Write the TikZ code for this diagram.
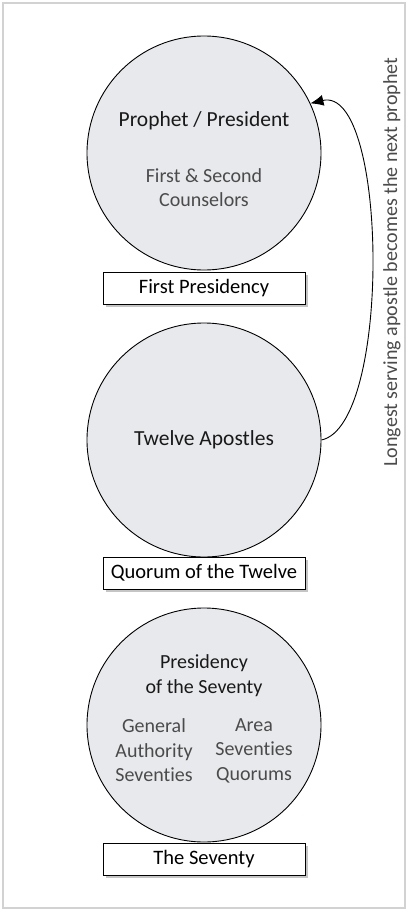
\documentclass[tikz,border=0pt]{standalone}
\usepackage{fontspec}
\setmainfont{Carlito}[Ligatures={NoCommon,NoContextual,NoRare}]
\usetikzlibrary{arrows.meta}
\definecolor{circfill}{RGB}{232,233,236}
\definecolor{lighttext}{RGB}{75,75,75}
\definecolor{framecol}{RGB}{210,210,210}
\tikzset{
  circ/.style={circle, draw=black, line width=0.9pt, fill=circfill, minimum size=234pt, inner sep=0pt},
  mainlabel/.style={font=\fontsize{20}{25}\selectfont, text=black!90, align=center, inner sep=0pt},
  biglabel/.style={font=\fontsize{21.5}{25}\selectfont, text=black!90, align=center, inner sep=0pt},
  sublabel/.style={font=\fontsize{20}{24.5}\selectfont, text=lighttext, align=center, inner sep=0pt},
  tagbox/.style={draw=black, line width=0.9pt, fill=white, minimum width=202pt, minimum height=32pt, inner sep=0pt, font=\fontsize{20.5}{24}\selectfont},
  shadowbox/.style={fill=black!45, minimum width=202pt, minimum height=32pt, inner sep=0pt},
  link/.style={line width=0.9pt, -{Latex[length=13pt,width=11pt]}}
}
\begin{document}
\begin{tikzpicture}[x=1pt,y=-1pt]
\useasboundingbox (0,0) rectangle (409,913);
\fill[white] (0,0) rectangle (409,913);
\draw[framecol, line width=2pt] (3,3) rectangle (405,908);
% circles
\node[circ] (pres) at (204,153) {};
\node[circ] (twelve) at (204,440) {};
\node[circ] (seventy) at (204,725) {};
% texts in circles
\node[biglabel] (prestitle) at (204,121) {Prophet / President};
\node[sublabel] (counsel) at (204,187.5) {First \& Second\\Counselors};
\node[biglabel] (twelvetitle) at (204,440) {Twelve Apostles};
\node[mainlabel] (sevtitle) at (204,675.5) {Presidency\\of the Seventy};
\node[sublabel] (gas) at (154,750.5) {General\\Authority\\Seventies};
\node[sublabel] (asq) at (254,750.5) {Area\\Seventies\\Quorums};
% tag boxes with shadows
\node[shadowbox, opacity=0.5] (sh1) at (207,291) {};
\node[tagbox] (fp) at (204,288) {First Presidency};
\node[shadowbox, opacity=0.5] (sh2) at (207,576) {};
\node[tagbox] (qt) at (204,573) {Quorum of the Twelve};
\node[shadowbox, opacity=0.5] (sh3) at (207,862) {};
\node[tagbox] (ts) at (204,859) {The Seventy};
% succession arrow
\coordinate (start) at (twelve.east);
\coordinate (tip) at (pres.25);
\draw[link] (start) .. controls (392,425) and (388,85) .. (tip);
\node[sublabel, rotate=90] (succ) at (392,262) {Longest serving apostle becomes the next prophet};
\end{tikzpicture}
\end{document}
